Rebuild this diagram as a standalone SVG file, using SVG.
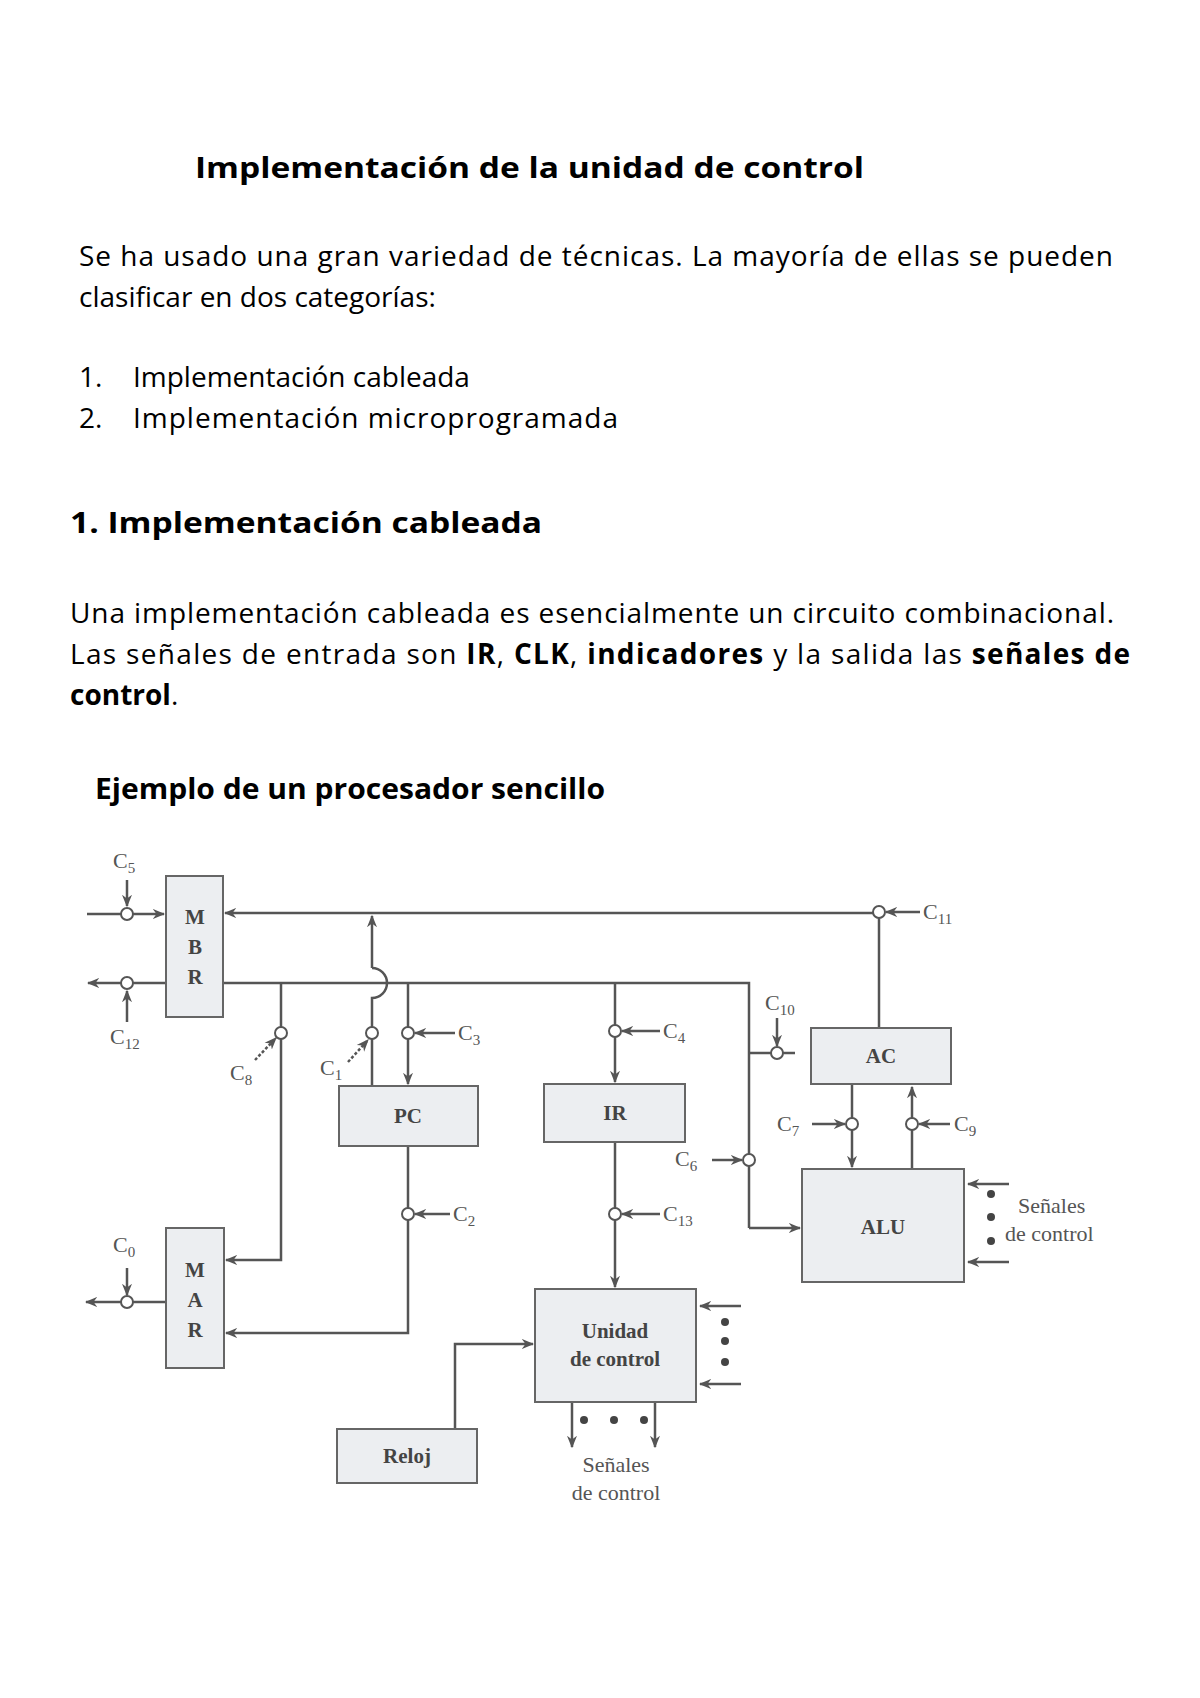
<svg xmlns="http://www.w3.org/2000/svg" width="1200" height="1698" viewBox="0 0 1200 1698">
<style>
.t{font-family:"Open Sans","Liberation Sans",sans-serif;font-size:28px;fill:#000}
.b{font-weight:bold}
.box{fill:#eceef1;stroke:#666;stroke-width:2}
.bl{font-family:"Liberation Serif",serif;font-weight:bold;font-size:21px;fill:#444;text-anchor:middle}
.cl{font-family:"Liberation Serif",serif;font-size:22px;fill:#555}
.sub{font-size:15px}
.w{fill:none;stroke:#555;stroke-width:2.5}
.a{fill:none;stroke:#555;stroke-width:2.5;marker-end:url(#ah)}
.d{fill:none;stroke:#555;stroke-width:2.5;stroke-dasharray:3 2;marker-end:url(#ah)}
.g{fill:#fff;stroke:#555;stroke-width:2}
.dot{fill:#444}
</style>
<defs>
<marker id="ah" viewBox="0 0 10 10" refX="9" refY="5" markerWidth="5" markerHeight="5" orient="auto" markerUnits="strokeWidth"><path d="M0,1 L10,5 L0,9 L3,5 z" fill="#555"/></marker>
</defs>
<rect width="1200" height="1698" fill="#fff"/>
<g id="text">
<text class="t b" x="195" y="178" font-size="33" textLength="669" lengthAdjust="spacingAndGlyphs">Implementación de la unidad de control</text>
<text class="t" x="79" y="266" textLength="1034">Se ha usado una gran variedad de técnicas. La mayoría de ellas se pueden</text>
<text class="t" x="79" y="307">clasificar en dos categorías:</text>
<text class="t" x="79" y="387">1.</text><text class="t" x="133" y="387">Implementación cableada</text>
<text class="t" x="79" y="428">2.</text><text class="t" x="133" y="428" textLength="485">Implementación microprogramada</text>
<text class="t b" x="70" y="533" font-size="34" textLength="472" lengthAdjust="spacingAndGlyphs">1. Implementación cableada</text>
<text class="t" x="70" y="623" textLength="1044">Una implementación cableada es esencialmente un circuito combinacional.</text>
<text class="t" x="70" y="664" textLength="1060">Las señales de entrada son <tspan class="b">IR</tspan>, <tspan class="b">CLK</tspan>, <tspan class="b">indicadores</tspan> y la salida las <tspan class="b">señales de</tspan></text>
<text class="t" x="70" y="705"><tspan class="b">control</tspan>.</text>
<text class="t b" x="95" y="799" textLength="510" lengthAdjust="spacingAndGlyphs">Ejemplo de un procesador sencillo</text>
</g>
<g id="connectors">
<path class="a" d="M87,914 H164"/>
<path class="a" d="M879,913 H225"/>
<path class="a" d="M127,880 V906"/>
<path class="a" d="M166,983 H88"/>
<path class="w" d="M223,983 H749 V1228"/>
<path class="a" d="M749,1228 H800"/>
<path class="a" d="M127,1022 V991"/>
<path class="a" d="M281,983 V1260 H226"/>
<path class="d" d="M255,1060 L276,1038"/>
<path class="w" d="M372,1086 V998 A15,15 0 0 0 372,968"/>
<path class="a" d="M372,968 V916"/>
<path class="d" d="M348,1062 L368,1040"/>
<path class="a" d="M408,983 V1084"/>
<path class="a" d="M455,1033 H415"/>
<path class="a" d="M408,1146 V1333 H226"/>
<path class="a" d="M450,1214 H415"/>
<path class="a" d="M615,983 V1082"/>
<path class="a" d="M660,1031 H622"/>
<path class="a" d="M615,1142 V1287"/>
<path class="a" d="M660,1214 H622"/>
<path class="w" d="M749,1053 H771 M783,1053 H795"/>
<path class="a" d="M777,1018 V1046"/>
<path class="w" d="M879,913 V1028"/>
<path class="a" d="M920,912 H886"/>
<path class="a" d="M852,1084 V1167"/>
<path class="a" d="M812,1124 H845"/>
<path class="a" d="M912,1169 V1087"/>
<path class="a" d="M950,1124 H919"/>
<path class="a" d="M712,1160 H742"/>
<path class="a" d="M1009,1184 H968"/>
<path class="a" d="M1009,1262 H968"/>
<path class="a" d="M741,1306 H700"/>
<path class="a" d="M741,1384 H700"/>
<path class="a" d="M455,1429 V1344 H533"/>
<path class="a" d="M572,1402 V1447"/>
<path class="a" d="M655,1402 V1447"/>
<path class="a" d="M166,1302 H86"/>
<path class="a" d="M127,1268 V1295"/>
</g>
<g id="gates">
<circle class="g" cx="127" cy="914" r="6"/>
<circle class="g" cx="127" cy="983" r="6"/>
<circle class="g" cx="281" cy="1033" r="6"/>
<circle class="g" cx="372" cy="1033" r="6"/>
<circle class="g" cx="408" cy="1033" r="6"/>
<circle class="g" cx="408" cy="1214" r="6"/>
<circle class="g" cx="615" cy="1031" r="6"/>
<circle class="g" cx="615" cy="1214" r="6"/>
<circle class="g" cx="777" cy="1053" r="6"/>
<circle class="g" cx="879" cy="912" r="6"/>
<circle class="g" cx="852" cy="1124" r="6"/>
<circle class="g" cx="912" cy="1124" r="6"/>
<circle class="g" cx="749" cy="1160" r="6"/>
<circle class="g" cx="127" cy="1302" r="6"/>
</g>
<g id="MBR"><rect class="box" x="166" y="876" width="57" height="141"/><text class="bl" x="195" y="924">M</text><text class="bl" x="195" y="954">B</text><text class="bl" x="195" y="984">R</text></g>
<g id="MAR"><rect class="box" x="166" y="1228" width="58" height="140"/><text class="bl" x="195" y="1277">M</text><text class="bl" x="195" y="1307">A</text><text class="bl" x="195" y="1337">R</text></g>
<g id="PC"><rect class="box" x="339" y="1086" width="139" height="60"/><text class="bl" x="408" y="1123">PC</text></g>
<g id="IR"><rect class="box" x="544" y="1084" width="141" height="58"/><text class="bl" x="615" y="1120">IR</text></g>
<g id="AC"><rect class="box" x="811" y="1028" width="140" height="56"/><text class="bl" x="881" y="1063">AC</text></g>
<g id="ALU"><rect class="box" x="802" y="1169" width="162" height="113"/><text class="bl" x="883" y="1234">ALU</text></g>
<g id="UC"><rect class="box" x="535" y="1289" width="161" height="113"/><text class="bl" x="615" y="1338">Unidad</text><text class="bl" x="615" y="1366">de control</text></g>
<g id="Reloj"><rect class="box" x="337" y="1429" width="140" height="54"/><text class="bl" x="407" y="1463">Reloj</text></g>
<g id="labels">
<text class="cl" x="113" y="868">C<tspan class="sub" dy="5">5</tspan></text>
<text class="cl" x="110" y="1044">C<tspan class="sub" dy="5">12</tspan></text>
<text class="cl" x="230" y="1080">C<tspan class="sub" dy="5">8</tspan></text>
<text class="cl" x="320" y="1075">C<tspan class="sub" dy="5">1</tspan></text>
<text class="cl" x="458" y="1040">C<tspan class="sub" dy="5">3</tspan></text>
<text class="cl" x="453" y="1221">C<tspan class="sub" dy="5">2</tspan></text>
<text class="cl" x="663" y="1038">C<tspan class="sub" dy="5">4</tspan></text>
<text class="cl" x="663" y="1221">C<tspan class="sub" dy="5">13</tspan></text>
<text class="cl" x="765" y="1010">C<tspan class="sub" dy="5">10</tspan></text>
<text class="cl" x="923" y="919">C<tspan class="sub" dy="5">11</tspan></text>
<text class="cl" x="777" y="1131">C<tspan class="sub" dy="5">7</tspan></text>
<text class="cl" x="954" y="1131">C<tspan class="sub" dy="5">9</tspan></text>
<text class="cl" x="675" y="1166">C<tspan class="sub" dy="5">6</tspan></text>
<text class="cl" x="113" y="1252">C<tspan class="sub" dy="5">0</tspan></text>
<circle class="dot" cx="991" cy="1194" r="4"/><circle class="dot" cx="991" cy="1217" r="4"/><circle class="dot" cx="991" cy="1241" r="4"/>
<text class="cl" x="1018" y="1213">Señales</text>
<text class="cl" x="1005" y="1241">de control</text>
<circle class="dot" cx="725" cy="1322" r="4"/><circle class="dot" cx="725" cy="1341" r="4"/><circle class="dot" cx="725" cy="1362" r="4"/>
<circle class="dot" cx="584" cy="1420" r="4"/><circle class="dot" cx="614" cy="1420" r="4"/><circle class="dot" cx="644" cy="1420" r="4"/>
<text class="cl" x="616" y="1472" text-anchor="middle">Señales</text>
<text class="cl" x="616" y="1500" text-anchor="middle">de control</text>
</g>
</svg>
